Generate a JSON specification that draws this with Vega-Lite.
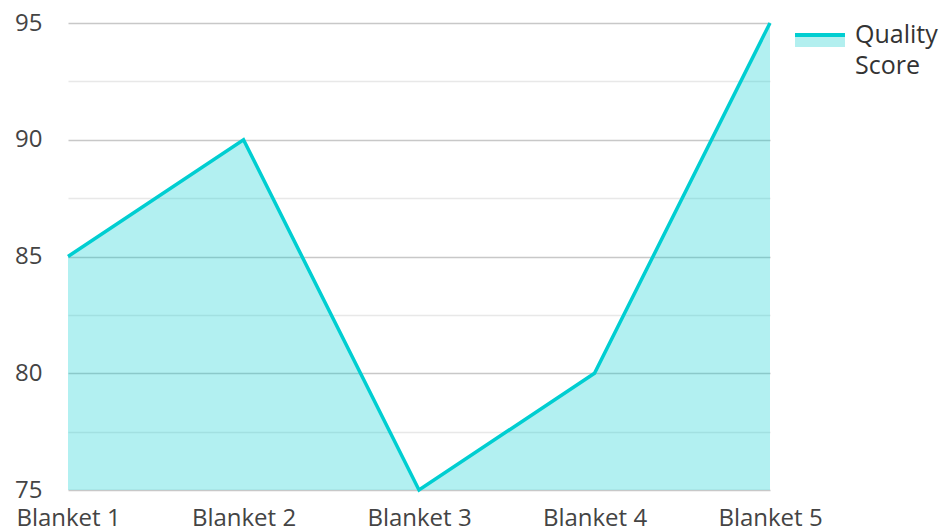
{
  "$schema": "https://vega.github.io/schema/vega-lite/v6.json",
  "width": 702,
  "height": 467,
  "autosize": {"type": "none"},
  "padding": {"left": 68, "top": 23, "right": 170, "bottom": 41},
  "background": "white",
  "config": {
    "view": {"stroke": null},
    "font": "Open Sans",
    "axis": {"labelFont": "Open Sans", "labelColor": "#444444", "labelFontSize": 24}
  },
  "data": {
    "values": [
      {"item": "Blanket 1", "score": 85, "series": "Quality Score"},
      {"item": "Blanket 2", "score": 90, "series": "Quality Score"},
      {"item": "Blanket 3", "score": 75, "series": "Quality Score"},
      {"item": "Blanket 4", "score": 80, "series": "Quality Score"},
      {"item": "Blanket 5", "score": 95, "series": "Quality Score"}
    ]
  },
  "encoding": {
    "x": {
      "field": "item", "type": "ordinal",
      "scale": {"type": "point", "padding": 0},
      "axis": {"title": null, "labelAngle": 0, "ticks": false, "domain": false, "grid": false, "labelPadding": 16}
    },
    "y": {
      "field": "score", "type": "quantitative",
      "scale": {"domain": [75, 95], "nice": false, "zero": false},
      "axis": {
        "title": null, "ticks": false, "domain": false,
        "values": [75, 77.5, 80, 82.5, 85, 87.5, 90, 92.5, 95],
        "labelExpr": "datum.value % 5 === 0 ? datum.label : ''",
        "labelPadding": 26,
        "gridColor": {"condition": {"test": "datum.value % 5 === 0", "value": "#c8c8c8"}, "value": "#e8e8e8"},
        "gridWidth": 1.5
      }
    }
  },
  "layer": [
    {
      "mark": {"type": "area", "color": "#00CED1", "opacity": 0.3},
      "encoding": {"y2": {"datum": 75}}
    },
    {
      "mark": {"type": "line", "strokeWidth": 3.5},
      "encoding": {
        "color": {
          "field": "series", "type": "nominal",
          "scale": {"range": ["#00CED1"]},
          "legend": {
            "title": null,
            "orient": "right",
            "offset": 26,
            "symbolType": "M-1.47,-0.41H1.47V0.41H-1.47Z",
            "symbolSize": 1156,
            "symbolStrokeWidth": 0,
            "labelFontSize": 25,
            "labelColor": "#333333",
            "labelFont": "Open Sans",
            "labelOffset": 18,
            "labelBaseline": "top",
            "labelExpr": "split(datum.label, ' ')",
            "padding": 0,
            "encode": {
              "labels": {"update": {"dy": {"value": -17}, "lineHeight": {"value": 31}}},
              "symbols": {
                "update": {
                  "fill": {"value": {"gradient": "linear", "x1": 0, "y1": 0, "x2": 0, "y2": 1,
                    "stops": [
                      {"offset": 0, "color": "#00CED1"},
                      {"offset": 0.3, "color": "#00CED1"},
                      {"offset": 0.3, "color": "#b2efef"},
                      {"offset": 1, "color": "#b2efef"}
                    ]}},
                  "strokeWidth": {"value": 0},
                  "opacity": {"value": 1}
                }
              }
            }
          }
        }
      }
    }
  ]
}
